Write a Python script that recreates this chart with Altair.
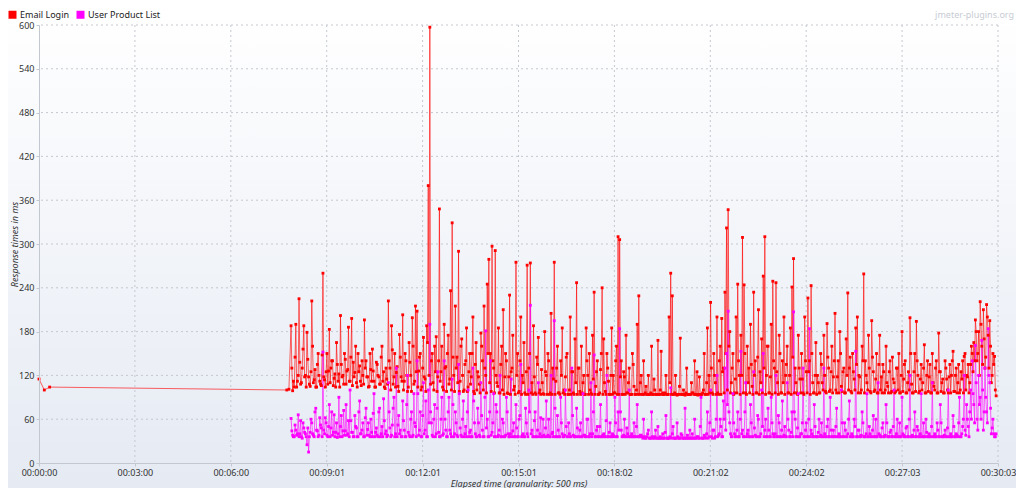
import altair as alt
import pandas as pd

# ---- data ----
series_names = ["Email Login", "User Product List"]
series_colors = ["#ff0000", "#ff00ff"]

# sparse start of Email Login (seconds, ms)
login_early_t = [0, 10, 20, 466, 470]
login_early_v = [115, 100, 104, 100, 101]

# dense part: samples from 474 s onward, every 3 s (set A) and the samples in between (set B)
dense_start = 474
dense_step = 3

login_dense = [
    188, 99, 104, 190, 112, 225, 108, 130, 188, 120,
    179, 118, 105, 222, 110, 128, 104, 150, 112, 106,
    260, 114, 125, 108, 183, 130, 140, 116, 104, 135,
    122, 202, 118, 108, 142, 126, 186, 112, 198, 138,
    124, 110, 150, 133, 106, 120, 196, 140, 118, 105,
    128, 156, 112, 104, 135, 118, 108, 160, 125, 102,
    115, 222, 130, 188, 108, 150, 124, 105, 176, 118,
    203, 112, 140, 98, 165, 120, 199, 108, 215, 208,
    126, 150, 104, 172, 115, 188, 380, 597, 140, 110,
    160, 173, 118, 348, 125, 104, 190, 132, 150, 108,
    236, 329, 120, 215, 145, 290, 112, 170, 98, 135,
    185, 104, 150, 118, 200, 95, 165, 125, 108, 178,
    140, 215, 120, 245, 279, 150, 297, 130, 291, 110,
    185, 96, 160, 210, 118, 140, 95, 230, 125, 175,
    105, 275, 150, 98, 200, 120, 165, 94, 271, 130,
    274, 110, 188, 96, 145, 172, 100, 128, 95, 180,
    120, 150, 94, 205, 130, 275, 112, 160, 96, 140,
    185, 100, 118, 150, 94, 200, 125, 96, 170, 247,
    130, 98, 160, 110, 94, 185, 120, 150, 96, 175,
    234, 105, 140, 94, 128, 240, 170, 98, 150, 112,
    94, 185, 120, 96, 160, 310, 306, 140, 94, 118,
    175, 96, 130, 94, 150, 105, 94, 190, 229, 110,
    94, 140, 96, 94, 120, 94, 160, 94, 100, 94,
    168, 94, 153, 96, 94, 120, 94, 200, 260, 229,
    94, 120, 93, 94, 171, 94, 100, 93, 130, 94,
    94, 110, 96, 140, 94, 93, 118, 94, 96, 150,
    94, 185, 120, 220, 96, 150, 110, 200, 94, 160,
    198, 130, 234, 322, 347, 180, 110, 150, 96, 200,
    245, 120, 175, 309, 244, 96, 160, 130, 190, 105,
    234, 140, 96, 210, 125, 170, 256, 310, 120, 160,
    96, 190, 249, 130, 247, 110, 175, 96, 140, 200,
    120, 160, 96, 185, 241, 280, 130, 96, 175, 115,
    150, 96, 200, 125, 226, 140, 243, 110, 96, 165,
    120, 96, 150, 110, 175, 98, 191, 130, 100, 160,
    118, 205, 96, 140, 180, 105, 125, 96, 170, 233,
    130, 98, 150, 115, 185, 200, 120, 96, 160, 259,
    140, 110, 175, 98, 195, 125, 100, 150, 96, 175,
    118, 135, 96, 160, 105, 125, 96, 145, 110, 98,
    130, 150, 96, 180, 115, 140, 96, 125, 199, 108,
    96, 150, 194, 120, 98, 135, 110, 162, 96, 140,
    118, 96, 150, 105, 130, 96, 178, 125, 110, 96,
    140, 115, 96, 135, 120, 153, 98, 130, 110, 96,
    125, 140, 146, 100, 118, 96, 135, 150, 165, 196,
    140, 180, 221, 160, 210, 130, 217, 175, 195, 110,
    150, 146, 92,
]

login_dense_b = [
    130, 112, 145, 104, 120, 138, 110, 156, 118, 104,
    142, 108, 125, 160, 114, 104, 135, 120, 108, 148,
    118, 104, 150, 126, 110, 140, 106, 122, 165, 112,
    104, 135, 120, 150, 108, 128, 112, 145, 106, 118,
    160, 104, 125, 112, 140, 108, 130, 118, 104, 150,
    112, 126, 104, 138, 120, 108, 145, 112, 104, 130,
    108, 140, 100, 155, 118, 104, 132, 98, 145, 112,
    100, 150, 120, 104, 138, 98, 160, 112, 125, 104,
    145, 100, 130, 118, 98, 165, 120, 108, 150, 100,
    125, 98, 140, 112, 160, 100, 130, 98, 175, 115,
    100, 145, 98, 130, 110, 98, 160, 120, 100, 140,
    98, 125, 108, 150, 98, 135, 100, 118, 96, 160,
    100, 130, 96, 150, 110, 98, 140, 96, 120, 105,
    96, 135, 100, 94, 150, 96, 118, 94, 130, 100,
    94, 120, 96, 140, 94, 110, 96, 125, 94, 150,
    96, 94, 118, 94, 135, 96, 94, 110, 94, 125,
    94, 140, 96, 94, 115, 94, 130, 96, 94, 120,
    96, 94, 145, 94, 100, 94, 125, 94, 110, 94,
    130, 94, 96, 120, 94, 140, 94, 100, 94, 115,
    94, 125, 94, 96, 150, 94, 110, 94, 130, 94,
    120, 94, 96, 140, 94, 94, 118, 94, 125, 94,
    96, 110, 94, 94, 135, 94, 100, 94, 94, 120,
    94, 94, 105, 94, 94, 96, 94, 115, 94, 94,
    94, 100, 94, 94, 96, 94, 94, 110, 94, 94,
    96, 94, 94, 105, 94, 94, 94, 96, 94, 94,
    94, 96, 94, 94, 125, 94, 94, 94, 100, 94,
    110, 94, 96, 130, 94, 120, 94, 96, 140, 94,
    125, 96, 150, 100, 160, 96, 130, 94, 115, 96,
    140, 94, 120, 96, 150, 94, 110, 96, 135, 94,
    120, 96, 145, 94, 110, 96, 130, 94, 160, 96,
    118, 94, 140, 96, 125, 94, 150, 96, 110, 94,
    135, 96, 120, 94, 145, 96, 110, 94, 130, 96,
    115, 94, 140, 96, 125, 94, 150, 96, 120, 94,
    110, 96, 135, 100, 120, 96, 145, 98, 125, 96,
    140, 100, 118, 96, 150, 98, 130, 96, 120, 100,
    145, 96, 125, 100, 135, 96, 118, 100, 140, 96,
    120, 100, 130, 96, 145, 98, 115, 96, 135, 100,
    96, 125, 100, 110, 96, 140, 98, 115, 96, 130,
    100, 96, 120, 98, 135, 96, 110, 100, 150, 96,
    125, 98, 140, 96, 115, 100, 130, 96, 120, 98,
    135, 96, 110, 100, 140, 96, 125, 98, 115, 96,
    130, 100, 118, 96, 140, 98, 120, 96, 135, 100,
    115, 96, 150, 120, 135, 110, 160, 125, 140, 180,
    150, 120, 190, 135, 170, 145, 200, 130, 160, 120,
    135, 100,
]

product_dense = [
    61, 38, 36, 45, 40, 36, 58, 34, 48, 40,
    25, 15, 42, 55, 38, 70, 45, 36, 62, 48,
    152, 40, 55, 36, 80, 48, 38, 66, 42, 35,
    90, 50, 36, 72, 44, 38, 58, 100, 42, 36,
    65, 48, 36, 85, 40, 55, 36, 75, 46, 38,
    60, 36, 95, 42, 38, 70, 36, 50, 88, 40,
    36, 110, 48, 38, 75, 36, 130, 52, 40, 36,
    85, 45, 36, 120, 38, 60, 36, 95, 50, 140,
    38, 70, 36, 110, 45, 36, 100, 190, 55, 36,
    80, 40, 125, 36, 60, 38, 140, 45, 36, 90,
    40, 115, 36, 70, 38, 135, 48, 36, 85, 40,
    36, 100, 42, 36, 130, 55, 36, 75, 38, 110,
    45, 36, 181, 60, 36, 140, 42, 95, 36, 70,
    38, 120, 36, 55, 36, 90, 40, 36, 115, 44,
    36, 80, 36, 60, 135, 38, 36, 75, 40, 100,
    216, 45, 36, 70, 36, 110, 40, 36, 60, 36,
    85, 38, 36, 120, 42, 195, 36, 65, 36, 90,
    40, 36, 100, 36, 55, 36, 130, 38, 36, 75,
    36, 45, 36, 95, 38, 36, 60, 36, 110, 40,
    148, 36, 50, 36, 80, 36, 40, 36, 120, 36,
    55, 36, 38, 90, 36, 70, 184, 45, 36, 60,
    36, 40, 100, 36, 36, 55, 36, 80, 36, 38,
    36, 60, 34, 36, 45, 34, 70, 34, 36, 34,
    50, 34, 34, 40, 34, 65, 34, 34, 103, 40,
    34, 34, 55, 34, 34, 38, 34, 75, 34, 34,
    45, 34, 34, 60, 34, 36, 34, 90, 34, 38,
    34, 70, 36, 100, 34, 45, 36, 120, 38, 60,
    36, 85, 130, 150, 208, 55, 36, 95, 40, 36,
    70, 36, 153, 45, 36, 110, 40, 36, 80, 36,
    125, 38, 36, 60, 36, 100, 150, 45, 36, 75,
    36, 90, 40, 36, 120, 36, 55, 36, 85, 38,
    36, 110, 45, 36, 70, 207, 60, 36, 95, 36,
    40, 130, 36, 55, 36, 184, 45, 36, 80, 36,
    36, 60, 38, 36, 130, 36, 50, 36, 90, 36,
    45, 36, 75, 36, 36, 100, 36, 55, 36, 40,
    85, 36, 36, 60, 153, 36, 45, 36, 70, 36,
    36, 95, 36, 40, 36, 65, 36, 36, 110, 38,
    36, 55, 36, 80, 36, 36, 45, 36, 100, 36,
    60, 36, 36, 90, 38, 36, 50, 36, 120, 36,
    36, 70, 36, 45, 36, 95, 36, 36, 60, 36,
    40, 36, 110, 36, 36, 55, 36, 80, 36, 36,
    45, 36, 100, 36, 36, 65, 36, 40, 36, 90,
    36, 50, 120, 38, 60, 36, 100, 140, 80, 161,
    60, 120, 90, 168, 45, 130, 70, 184, 110, 40,
    60, 36, 40,
]

product_dense_b = [
    44, 36, 52, 38, 66, 40, 36, 55, 42, 36,
    48, 36, 60, 40, 36, 75, 44, 38, 52, 36,
    45, 62, 38, 50, 36, 70, 42, 36, 55, 40,
    36, 65, 44, 38, 80, 40, 36, 58, 42, 36,
    50, 36, 70, 40, 45, 36, 62, 38, 55, 36,
    42, 68, 36, 48, 36, 75, 40, 36, 58, 44,
    38, 70, 36, 52, 90, 40, 36, 65, 45, 36,
    58, 36, 80, 42, 36, 70, 38, 55, 36, 95,
    45, 36, 65, 40, 85, 36, 55, 70, 38, 60,
    36, 75, 42, 36, 90, 40, 60, 36, 70, 45,
    36, 80, 40, 55, 36, 95, 38, 60, 36, 50,
    70, 36, 45, 36, 85, 40, 36, 55, 36, 65,
    36, 90, 48, 36, 70, 38, 55, 36, 80, 36,
    45, 36, 60, 36, 38, 70, 36, 40, 36, 55,
    36, 48, 36, 65, 36, 40, 36, 55, 36, 70,
    40, 36, 58, 36, 45, 36, 62, 36, 38, 48,
    36, 60, 36, 40, 36, 75, 36, 45, 36, 55,
    36, 38, 50, 36, 40, 36, 65, 36, 36, 48,
    36, 55, 36, 38, 36, 60, 36, 40, 36, 70,
    36, 45, 36, 50, 36, 38, 36, 58, 36, 42,
    36, 40, 36, 55, 36, 45, 70, 36, 38, 36,
    48, 36, 36, 40, 36, 36, 50, 36, 36, 38,
    34, 36, 34, 40, 34, 34, 36, 34, 45, 34,
    34, 36, 34, 34, 42, 34, 34, 36, 34, 50,
    34, 34, 36, 34, 40, 34, 34, 34, 38, 34,
    34, 40, 34, 34, 36, 34, 50, 34, 34, 36,
    40, 34, 55, 36, 45, 34, 60, 36, 40, 50,
    36, 60, 45, 80, 70, 40, 36, 55, 36, 45,
    36, 60, 40, 36, 70, 36, 45, 36, 55, 36,
    48, 36, 65, 36, 40, 50, 36, 60, 36, 45,
    36, 55, 36, 40, 36, 65, 36, 45, 36, 50,
    36, 60, 36, 42, 36, 70, 36, 48, 36, 40,
    55, 36, 45, 36, 60, 36, 40, 36, 50, 36,
    42, 36, 55, 36, 40, 36, 60, 36, 45, 36,
    36, 50, 36, 40, 36, 55, 36, 45, 36, 60,
    36, 40, 36, 50, 36, 45, 36, 38, 55, 36,
    40, 36, 50, 36, 45, 36, 60, 36, 40, 36,
    48, 36, 38, 55, 36, 42, 36, 50, 36, 40,
    36, 55, 36, 40, 36, 48, 36, 60, 36, 38,
    45, 36, 50, 36, 40, 36, 55, 36, 42, 36,
    36, 50, 36, 40, 36, 45, 36, 55, 36, 38,
    36, 48, 36, 40, 36, 50, 36, 38, 55, 36,
    40, 60, 45, 80, 50, 70, 60, 95, 55, 110,
    45, 80, 60, 100, 70, 90, 55, 120, 75, 48,
    40, 36,
]

x_tick_seconds = [0, 180.35, 360.7, 541.05, 721.4, 901.75, 1082.1,
                  1262.45, 1442.8, 1623.15, 1803.5]
y_tick_values = [0, 60, 120, 180, 240, 300, 360, 420, 480, 540, 600]

# ---- build table ----
rows = []
for t, v in zip(login_early_t, login_early_v):
    rows.append({"t": t, "ms": v, "series": series_names[0]})
for i, v in enumerate(login_dense):
    rows.append({"t": dense_start + dense_step * i, "ms": v, "series": series_names[0]})
for i, v in enumerate(login_dense_b):
    rows.append({"t": dense_start + dense_step * i + dense_step / 2, "ms": v, "series": series_names[0]})
for i, v in enumerate(product_dense):
    rows.append({"t": dense_start + dense_step * i, "ms": v, "series": series_names[1]})
for i, v in enumerate(product_dense_b):
    rows.append({"t": dense_start + dense_step * i + dense_step / 2, "ms": v, "series": series_names[1]})
df = pd.DataFrame(rows).sort_values(["series", "t"]).reset_index(drop=True)

# layout: svg must stay within 1008 x 480 (page has an 8px margin)
PAD_L, PAD_T, PAD_R, PAD_B = 31, 17, 18, 25
W, H = 959, 438
FONT = "Noto Sans"
GRID = "#c4c8cf"
AXC = "#c3c8d0"
TXT = "#333333"

axis_common = dict(
    grid=False, zindex=1, domainColor=AXC, tickColor=AXC, tickSize=3,
    labelFont=FONT, titleFont=FONT, labelFontSize=9, titleFontSize=9,
    labelColor=TXT, titleColor=TXT, titleFontStyle="italic",
    titleFontWeight="normal", labelPadding=2,
)

legend_def = alt.Legend(
    orient="none", legendX=-31, legendY=-15, direction="horizontal",
    title=None, symbolType="square", symbolSize=64, symbolStrokeWidth=0,
    symbolOpacity=1, labelFontSize=9, labelFont=FONT, labelColor="#222",
    padding=0, columnPadding=6, labelOffset=3, symbolOffset=0, zindex=2,
)

color_scale = alt.Scale(domain=series_names, range=series_colors)
x_scale = alt.Scale(domain=[0, 1803.5], nice=False, zero=False)
y_scale = alt.Scale(domain=[0, 600], nice=False)
x_enc = alt.X(
    "t:Q", scale=x_scale,
    axis=alt.Axis(
        values=x_tick_seconds,
        labelExpr="utcFormat(datum.value * 1000, '%H:%M:%S')",
        title="Elapsed time (granularity: 500 ms)",
        labelOverlap=False, labelBound=False, labelFlush=False,
        titlePadding=2, **axis_common,
    ),
)
y_enc = alt.Y(
    "ms:Q", scale=y_scale,
    axis=alt.Axis(values=y_tick_values, title="Response times in ms",
                  titleX=-25, titleY=H / 2, titleBaseline="middle", **axis_common),
)
color_enc = alt.Color("series:N", scale=color_scale, legend=legend_def)

bg = alt.Chart(pd.DataFrame({"a": [0]})).mark_rect(
    fill=alt.Gradient(
        gradient="linear",
        stops=[alt.GradientStop(color="#ffffff", offset=0),
               alt.GradientStop(color="#e5eaf3", offset=1)],
        x1=0, x2=0, y1=0, y2=1,
    ),
).encode(
    x=alt.value(-PAD_L), x2=alt.value(W + PAD_R),
    y=alt.value(-PAD_T), y2=alt.value(H + PAD_B),
)

hgrid = alt.Chart(pd.DataFrame({"ms": y_tick_values[1:]})).mark_rule(
    color=GRID, strokeDash=[2, 3], strokeWidth=1
).encode(y=y_enc)
vgrid = alt.Chart(pd.DataFrame({"t": x_tick_seconds[1:]})).mark_rule(
    color=GRID, strokeDash=[2, 3], strokeWidth=1
).encode(x=x_enc)

base = alt.Chart(df)
lines = base.mark_line(strokeWidth=1, opacity=0.62).encode(
    x=x_enc, y=y_enc, color=color_enc, order="t:Q",
)
points = base.mark_square(size=8, opacity=1, filled=True).encode(
    x=x_enc, y=y_enc, color=color_enc,
)

watermark = alt.Chart(pd.DataFrame({"txt": ["jmeter-plugins.org"]})).mark_text(
    align="right", baseline="middle", fontSize=9, font=FONT, color="#c8ccd4"
).encode(text="txt:N", x=alt.value(W + PAD_R - 2), y=alt.value(-10))

chart = alt.layer(bg, hgrid, vgrid, lines, points, watermark).properties(
    width=W, height=H,
    autosize=alt.AutoSizeParams(type="none"),
    padding={"left": PAD_L, "top": PAD_T, "right": PAD_R, "bottom": PAD_B},
).configure_view(stroke=None)

chart.save("out.html", embed_options={"renderer": "svg", "actions": False})
